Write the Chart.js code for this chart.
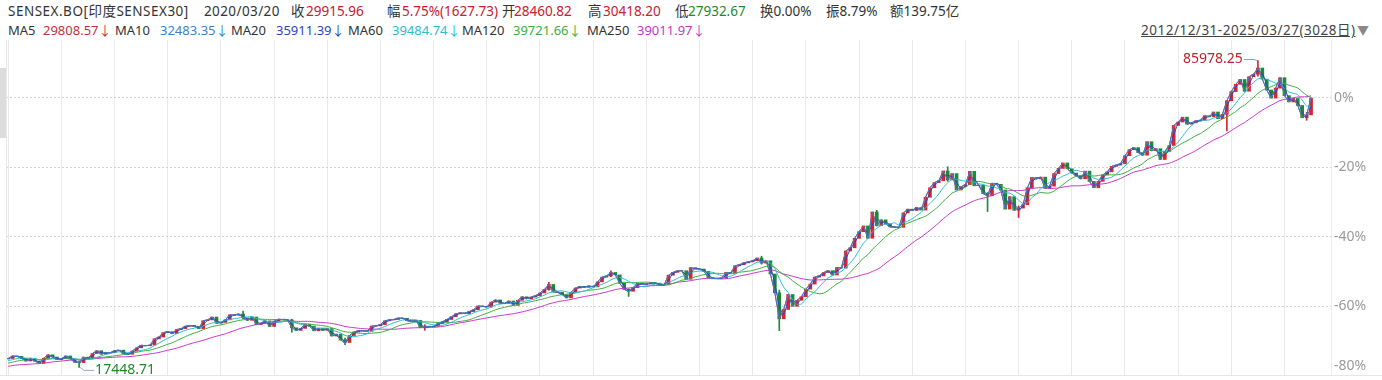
<!DOCTYPE html>
<html>
<head>
<meta charset="utf-8">
<script src="https://cdn.jsdelivr.net/npm/chart.js@4.4.1/dist/chart.umd.min.js"></script>
<style>
  body { margin: 0; width: 1382px; height: 380px; overflow: hidden; background: #fff; position: relative;
         font-family: "Noto Sans", "Noto Sans CJK SC", sans-serif; }
  .t { position: absolute; font-size: 13.5px; line-height: 17px; white-space: nowrap; color: #333; }
  .l1 { top: 3px; } .l2 { top: 22px; font-size: 13px; }
  .up { color: #c8202d; } .dn { color: #1f8a2a; }
  #wrap { position: absolute; left: 0; top: 38px; width: 1382px; height: 342px; }
  #side { position: absolute; left: 0; top: 68px; width: 6px; height: 70px; background: #dcdcdc; }
  #bottom { position: absolute; left: 0; top: 375px; width: 1382px; height: 1px; background: #e6e6e6; }
</style>
</head>
<body>
<div class="t l1" style="left:8px;letter-spacing:0.5px">SENSEX.BO[印度SENSEX30]</div>
<div class="t l1" style="left:204px;letter-spacing:0.4px">2020/03/20</div>
<div class="t l1" style="left:291px">收</div><div class="t l1 up" style="left:306px">29915.96</div>
<div class="t l1" style="left:387px">幅</div><div class="t l1 up" style="left:402px">5.75%(1627.73)</div>
<div class="t l1" style="left:502px">开</div><div class="t l1 up" style="left:514px">28460.82</div>
<div class="t l1" style="left:588px">高</div><div class="t l1 up" style="left:603px">30418.20</div>
<div class="t l1" style="left:675px">低</div><div class="t l1 dn" style="left:688px">27932.67</div>
<div class="t l1" style="left:760px">换0.00%</div>
<div class="t l1" style="left:826px">振8.79%</div>
<div class="t l1" style="left:890px">额139.75亿</div>

<div class="t l2" style="left:8px">MA5</div><div class="t l2" style="left:43px;color:#c8303c">29808.57↓</div>
<div class="t l2" style="left:115px">MA10</div><div class="t l2" style="left:160px;color:#3c82c4">32483.35↓</div>
<div class="t l2" style="left:231px">MA20</div><div class="t l2" style="left:276px;color:#2a44c4">35911.39↓</div>
<div class="t l2" style="left:348px">MA60</div><div class="t l2" style="left:392px;color:#2cbcd0">39484.74↓</div>
<div class="t l2" style="left:462px">MA120</div><div class="t l2" style="left:513px;color:#3cae3c">39721.66↓</div>
<div class="t l2" style="left:587px">MA250</div><div class="t l2" style="left:637px;color:#cc33cc">39011.97↓</div>
<div class="t l2" style="left:1141px;text-decoration:underline;color:#444;font-size:13.5px;letter-spacing:0.5px">2012/12/31-2025/03/27(3028日)</div>
<div class="t l2" style="left:1357px;color:#888;font-size:12px">▼</div>

<div id="side"></div>
<div id="wrap"><canvas id="kline" width="1382" height="342"></canvas></div>
<div id="bottom"></div>

<script>
// semi-monthly closes: index 2k = mid-month, 2k+1 = month end
// 2012 row starts with 2011-12-30 and is only used to warm up the moving averages, except its last value (2012-12-31)
const close2012 = [15455, 16150, 17194, 17850, 17753, 17470, 17404, 17150, 17319, 16330, 16219, 16950, 17430,
                   17150, 17236, 17560, 17430, 18460, 18763, 18720, 18505, 18310, 19340, 19320, 19427];
const close2013 = [19986, 19895, 19468, 18862, 19427, 18836, 18357, 19504, 20250, 19760, 19177, 19396,
                   20000, 19346, 18600, 18520, 19733, 19380, 20547, 21165, 20400, 20792, 20716, 21171];
const close2014 = [21289, 20514, 20366, 21120, 21810, 22386, 22276, 22418, 23815, 24217, 25228, 25414,
                   25007, 25895, 26103, 26638, 26817, 26630, 26108, 27866, 28046, 28694, 27320, 27499];
const close2015 = [28075, 29182, 29095, 29362, 28503, 27957, 28700, 27011, 27324, 27828, 26586, 27781,
                   28198, 28115, 28067, 26283, 25705, 26155, 27010, 26657, 25610, 26146, 25700, 26118];
const close2016 = [24455, 24871, 23554, 23002, 24551, 25342, 25627, 25607, 25490, 26668, 26726, 26999,
                   27837, 28052, 28152, 28452, 28412, 27866, 27674, 27942, 26304, 26653, 26520, 26626];
const close2017 = [27238, 27656, 28155, 28743, 29398, 29621, 29461, 29918, 30322, 31146, 31076, 30922,
                   32021, 32515, 31771, 31730, 32273, 31284, 32433, 33213, 32760, 33149, 33463, 34057];
const close2018 = [34843, 35965, 34297, 34184, 33686, 32969, 34193, 35160, 35544, 35322, 35622, 35423,
                   36541, 37607, 37852, 38645, 38091, 36227, 34865, 34442, 35260, 36194, 35963, 36068];
const close2019 = [36319, 36257, 35809, 35867, 38024, 38673, 39000, 39032, 37115, 39714, 39452, 39395,
                   38897, 37481, 37311, 37333, 37385, 38667, 38506, 40129, 40357, 40794, 41010, 41254];
const close2020 = [41873, 40723, 41257, 38297, 34103, 28300, 30380, 33717, 31097, 32424, 33229, 34916,
                   36052, 37607, 37877, 38628, 39044, 38068, 39728, 39614, 43443, 44150, 46263, 47751];
const close2021 = [49035, 46286, 52154, 49100, 50395, 49509, 48804, 48782, 48733, 51937, 52773, 52483,
                   53159, 52587, 55437, 57552, 58723, 59126, 61306, 59307, 60718, 57065, 57789, 58254];
const close2022 = [61223, 58014, 58143, 56247, 55777, 58569, 58338, 57061, 52794, 55566, 52541, 53019,
                   53761, 57570, 59843, 59537, 59934, 57427, 57920, 60747, 61873, 63100, 61799, 60841];
const close2023 = [60261, 59549, 61275, 58962, 57556, 58992, 60431, 61112, 62346, 62622, 62918, 64719,
                   66061, 66528, 65402, 64831, 67839, 65828, 66283, 63875, 65676, 66988, 71484, 72240];
const close2024 = [73328, 71752, 72050, 72500, 72643, 73651, 73399, 74483, 72987, 73961, 76993, 79032,
                   80665, 81741, 79106, 82366, 82891, 84300, 81820, 79389, 77580, 79803, 82133, 78139];
const close2025 = [76724, 77501, 75939, 73198, 73829, 77606];

// period extremes where the wick stands out in the picture
const wickLabels = ['2013-08-b', '2015-03-a', '2015-08-b', '2016-02-b', '2016-11-b', '2018-01-b', '2018-08-b',
                    '2018-10-b', '2020-01-b', '2020-03-b', '2021-02-b', '2021-10-b', '2022-03-a', '2022-06-b',
                    '2024-06-a', '2024-09-b', '2025-03-a'];
const wickLows  = [17448.71, 28300, 25298, 22494, 25717, 34700, 37700, 33291, 40500, 25638.14, 49000, 59000,
                   52260, 50921, 70234.43, 82500, 72633];
const wickHighs = [18900, 30024, 28200, 24000, 27000, 36443, 38990, 35000, 42273, 34700, 52516, 62245,
                   56500, 53500, 77100, 85978.25, 74400];

const peakLabel = '2024-09-b', peakValue = 85978.25;
const lowLabel = '2013-08-b', lowValue = 17448.71;

const basePrice = 77606.43;           // 0% line
const pctTicks = [0, -20, -40, -60, -80];
const tradingDays = 3028;

const maDays = [5, 10, 20, 60, 120, 250];
const maColors = ['#c8303c', '#3c82c4', '#2a44c4', '#2cbcd0', '#3cae3c', '#cc33cc'];
const maOrder = [1.5, 1, 1, 1, 1, 1];

// ---- build series ----
const allClose = [].concat(close2012, close2013, close2014, close2015, close2016, close2017, close2018,
                           close2019, close2020, close2021, close2022, close2023, close2024, close2025);
const firstShown = close2012.length - 1;
const shown = allClose.slice(firstShown);

const labels = ['2012-12-b'];
[2013, 2014, 2015, 2016, 2017, 2018, 2019, 2020, 2021, 2022, 2023, 2024, 2025].forEach(y => {
  for (let m = 1; m <= 12; m++) {
    ['a', 'b'].forEach(h => labels.push(y + '-' + String(m).padStart(2, '0') + '-' + h));
  }
});
labels.length = shown.length;
for (let i = 0; i < 4; i++) labels.push('');

const daysPerSample = tradingDays / shown.length;

function movingAvg(src, w) {
  const k = Math.floor(w), f = w - k;
  return src.map((_, i) => {
    let s = 0, n = 0;
    for (let j = 0; j < k && i - j >= 0; j++) { s += src[i - j]; n++; }
    if (f > 0 && i - k >= 0) { s += f * src[i - k]; n += f; }
    return n ? s / n : null;
  });
}

const bodies = shown.map((c, i) => [i === 0 ? allClose[firstShown - 1] : shown[i - 1], c]);
const wicks = wickLabels.map((l, i) => ({ x: l, y: [wickLows[i], wickHighs[i]] }));
const upColor = '#d8262c', downColor = '#1d8a34';

const maSets = maDays.map((d, i) => ({
  type: 'line',
  label: 'MA' + d,
  data: movingAvg(allClose, d / daysPerSample).slice(firstShown),
  borderColor: maColors[i],
  borderWidth: 1,
  pointRadius: 0,
  tension: d < 20 ? 0 : 0.3,
  order: maOrder[i]
}));

const ctx = document.getElementById('kline').getContext('2d');

const overlay = {
  id: 'overlay',
  afterDraw(chart) {
    const { ctx, chartArea, scales: { x, y } } = chart;
    ctx.save();
    // percent labels on the right
    ctx.font = '14px "Noto Sans", sans-serif';
    ctx.fillStyle = '#9a9a9a';
    ctx.textBaseline = 'middle';
    ctx.textAlign = 'left';
    pctTicks.forEach(p => {
      let py = y.getPixelForValue(basePrice * (1 + p / 100));
      py = Math.min(py, chartArea.bottom - 9);
      ctx.fillText(p + '%', chartArea.right + 3, py);
    });
    // left frame line
    ctx.strokeStyle = '#e8e8e8';
    ctx.lineWidth = 1;
    ctx.beginPath();
    ctx.moveTo(chartArea.left + 0.5, chartArea.top);
    ctx.lineTo(chartArea.left + 0.5, chartArea.bottom);
    ctx.stroke();
    // highest
    const hx = x.getPixelForValue(labels.indexOf(peakLabel));
    const hy = y.getPixelForValue(peakValue);
    ctx.strokeStyle = '#7fa9b8';
    ctx.beginPath();
    ctx.moveTo(hx - 1, hy);
    ctx.lineTo(hx - 4, hy - 1);
    ctx.lineTo(hx - 14, hy - 1);
    ctx.stroke();
    ctx.fillStyle = '#c0202e';
    ctx.textAlign = 'right';
    ctx.fillText(peakValue.toFixed(2), hx - 15, hy - 1);
    // lowest
    const lx = x.getPixelForValue(labels.indexOf(lowLabel));
    const ly = y.getPixelForValue(lowValue);
    ctx.strokeStyle = '#9aaab0';
    ctx.beginPath();
    ctx.moveTo(lx + 1, ly);
    ctx.lineTo(lx + 5, ly + 3);
    ctx.lineTo(lx + 15, ly + 3);
    ctx.stroke();
    ctx.fillStyle = '#1f8a2a';
    ctx.textAlign = 'left';
    ctx.fillText(lowValue.toFixed(2), lx + 16, ly + 3);
    ctx.restore();
  }
};

new Chart(ctx, {
  data: {
    labels: labels,
    datasets: [
      ...maSets,
      {
        type: 'bar',
        label: 'body',
        data: bodies,
        backgroundColor: c => (c.raw && c.raw[1] >= c.raw[0]) ? upColor : downColor,
        barThickness: 3,
        grouped: false,
        order: 2
      },
      {
        type: 'bar',
        label: 'wick',
        data: wicks,
        backgroundColor: c => {
          const i = labels.indexOf(c.raw.x);
          const b = bodies[i];
          return b[1] >= b[0] ? upColor : downColor;
        },
        barThickness: 1,
        grouped: false,
        order: 3
      }
    ]
  },
  options: {
    responsive: false,
    devicePixelRatio: 1,
    animation: false,
    layout: { padding: { left: 6, right: 51, top: 2, bottom: 5 } },
    plugins: { legend: { display: false }, tooltip: { enabled: false } },
    scales: {
      x: {
        type: 'category',
        offset: true,
        ticks: { display: false, autoSkip: false },
        grid: {
          offset: false,
          drawTicks: false,
          color: c => /-(06|12)-b$/.test(labels[c.index] || '') ? '#e9e9e9' : 'rgba(0,0,0,0)'
        },
        border: { display: false }
      },
      y: {
        position: 'right',
        min: 15744,
        max: 90558,
        afterBuildTicks: s => {
          s.ticks = pctTicks.map(p => ({ value: basePrice * (1 + p / 100) })).filter(t => t.value >= 15744);
        },
        ticks: { display: false },
        grid: { drawTicks: false, color: '#d2d2d2' },
        border: { display: true, color: '#ececec', dash: [2, 2] }
      }
    }
  },
  plugins: [overlay]
});
</script>
</body>
</html>
